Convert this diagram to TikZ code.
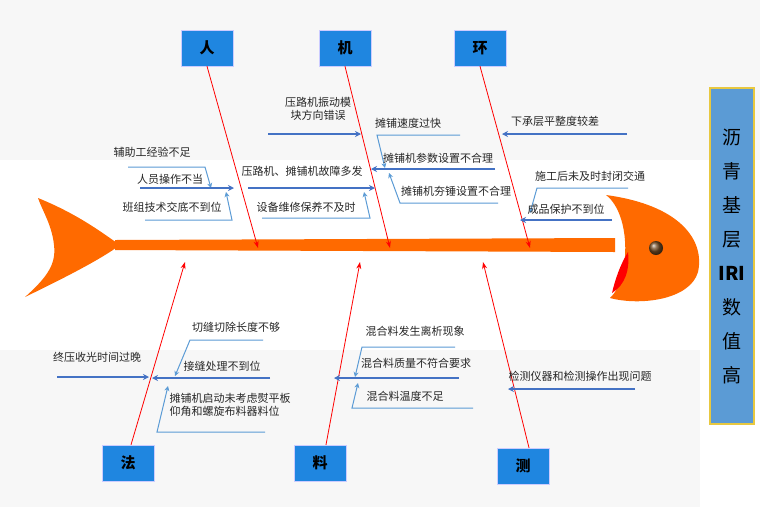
\documentclass[tikz,border=0pt]{standalone}
\usepackage{fontspec}
\setmainfont{Noto Sans CJK SC}
\usetikzlibrary{arrows.meta}
\begin{document}
\begin{tikzpicture}[x=1pt,y=-1pt,
  cat/.style={draw=white!80!blue,fill=catblue,minimum width=52pt,minimum height=36pt,inner sep=0pt,font=\fontsize{15}{15}\selectfont\bfseries},
  lbl/.style={font=\fontsize{11}{13.5}\selectfont,inner sep=1pt,text=black!85},
  main/.style={draw=arrblue,line width=1.6pt,-{Stealth[length=6pt,width=6pt]}},
  sub/.style={draw=lightblue,line width=1pt,-{Stealth[length=5pt,width=5pt]}},
  redarr/.style={draw=red,line width=0.8pt,-{Stealth[length=7pt,width=5pt]}}]
\definecolor{catblue}{HTML}{1F86E0}
\definecolor{arrblue}{HTML}{4472C4}
\definecolor{lightblue}{HTML}{5B9BD5}
\definecolor{fishorange}{HTML}{FF6A00}
\definecolor{sidebox}{HTML}{5B9BD5}
\definecolor{gold}{HTML}{E8C840}
\useasboundingbox (0,0) rectangle (760,507);
\fill[white] (0,0) rectangle (760,507);
\fill[black!3] (0,0) rectangle (760,160);
\fill[black!3] (0,350) rectangle (700,507);
% fish
\fill[fishorange] (38,198) .. controls (80,215) and (105,235) .. (120,245) .. controls (100,260) and (60,280) .. (25,297) .. controls (50,275) and (56,262) .. (54,245) .. controls (52,225) and (42,210) .. (38,198) -- cycle;
\fill[fishorange] (115,240) -- (615,238) -- (615,252) -- (115,250) -- cycle;
\fill[fishorange] (606,195) .. controls (680,205) and (705,240) .. (698,272) .. controls (690,300) and (640,306) .. (610,298) .. controls (630,280) and (632,215) .. (606,195) -- cycle;
\fill[red] (628,252) .. controls (630,270) and (625,285) .. (612,293) .. controls (615,280) and (620,265) .. (628,252) -- cycle;
\shade[ball color=brown!60!black] (656,248) circle (7);
% side box
\node[draw=gold,line width=1.5pt,fill=sidebox,minimum width=44pt,minimum height=336pt,inner sep=0pt,
 align=center,font=\fontsize{19}{34}\selectfont] (side) at (732,256) {沥\\青\\基\\层\\\textbf{IRI}\\数\\值\\高};
% category boxes
\node[cat] (ren) at (207,48) {人};
\node[cat] (ji) at (345,48) {机};
\node[cat] (huan) at (480,48) {环};
\node[cat] (fa) at (128,463) {法};
\node[cat] (liao) at (320,463) {料};
\node[cat] (ce) at (523,466) {测};
\coordinate (s1) at (258,248); \coordinate (s2) at (390,248); \coordinate (s3) at (530,248);
\coordinate (b1) at (185,262); \coordinate (b2) at (360,262); \coordinate (b3) at (483,262);
\draw[redarr] (ren.south) -- (s1);
\draw[redarr] (ji.south) -- (s2);
\draw[redarr] (huan.south) -- (s3);
\draw[redarr] ([xshift=3pt]fa.north) -- (b1);
\draw[redarr] ([xshift=6pt]liao.north) -- (b2);
\draw[redarr] ([xshift=6pt]ce.north) -- (b3);
% 人
\node[lbl] at (152,152) {辅助工经验不足};
\draw[sub] (128,167) -- (205,167) -- (211,188);
\node[lbl] at (170,179) {人员操作不当};
\draw[main] (140,188) -- (234,188);
\node[lbl] at (172,207) {班组技术交底不到位};
\draw[sub] (145,220) -- (232,220) -- (226,192);
% 机
\node[lbl,align=center] at (318,109) {压路机振动模\\块方向错误};
\draw[main] (268,134) -- (361,134);
\node[lbl] at (302,171) {压路机、摊铺机故障多发};
\draw[main] (248,188) -- (375,188);
\node[lbl] at (306,207) {设备维修保养不及时};
\draw[sub] (262,218) -- (370,218) -- (364,192);
\node[lbl] at (408,123) {摊铺速度过快};
\draw[sub] (460,135) -- (377,135) -- (385,168);
\node[lbl] at (438,158) {摊铺机参数设置不合理};
\draw[main] (495,169) -- (371,169);
\node[lbl] at (456,191) {摊铺机夯锤设置不合理};
\draw[sub] (498,203) -- (400,203) -- (389,173);
% 环
\node[lbl] at (555,121) {下承层平整度较差};
\draw[main] (627,134) -- (502,134);
\node[lbl] at (590,176) {施工后未及时封闭交通};
\draw[sub] (628,188) -- (537,188) -- (530,213);
\node[lbl] at (566,209) {成品保护不到位};
\draw[main] (612,220) -- (520,220);
% 法
\node[lbl] at (236,327) {切缝切除长度不够};
\draw[sub] (263,340) -- (190,340) -- (175,376);
\node[lbl] at (97,357) {终压收光时间过晚};
\draw[main] (57,377) -- (149,377);
\node[lbl] at (222,366) {接缝处理不到位};
\draw[main] (270,378) -- (152,378);
\node[lbl,align=left] at (230,405) {摊铺机启动未考虑熨平板\\仰角和螺旋布料器料位};
\draw[sub] (265,432) -- (157,432) -- (168,386);
% 料
\node[lbl] at (415,331) {混合料发生离析现象};
\draw[sub] (455,347) -- (362,347) -- (355,377);
\node[lbl] at (416,363) {混合料质量不符合要求};
\draw[main] (459,378) -- (334,378);
\node[lbl] at (405,396) {混合料温度不足};
\draw[sub] (473,408) -- (352,408) -- (358,383);
% 测
\node[lbl] at (580,376) {检测仪器和检测操作出现问题};
\draw[main] (635,389) -- (508,389);
\end{tikzpicture}
\end{document}
